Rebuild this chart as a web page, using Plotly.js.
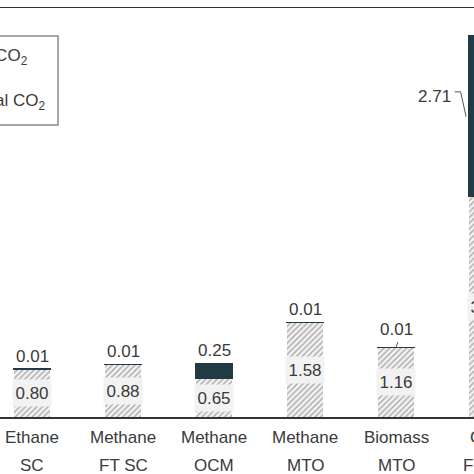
<!DOCTYPE html>
<html>
<head>
<meta charset="utf-8">
<script src="https://cdn.plot.ly/plotly-3.0.1.min.js"></script>
<style>html,body{margin:0;padding:0;background:#fff;}#chart{width:474px;height:474px;}</style>
</head>
<body>
<div id="chart"></div>
<script>
// ---- data ----
const categories = ['Ethane SC', 'Methane FT SC', 'Methane OCM', 'Methane MTO', 'Biomass MTO', 'Coal FT SC'];
const labelLine1 = ['Ethane', 'Methane', 'Methane', 'Methane', 'Biomass', 'Coal'];
const labelLine2 = ['SC', 'FT SC', 'OCM', 'MTO', 'MTO', 'FT SC'];
const thermalCO2 = [0.80, 0.88, 0.65, 1.58, 1.16, 3.71];
const directCO2 = [0.01, 0.01, 0.25, 0.01, 0.01, 2.71];
const seriesNames = ['Direct CO<sub>2</sub>', 'Thermal CO<sub>2</sub>'];

// ---- styles ----
const darkColor = '#213b45';
const textColor = '#3a3a3a';
const font = 'Liberation Sans, Arial, sans-serif';
const barW = 0.4;
const xr = [-0.352, 4.857];
const yr = [0, 6.874];
const px = i => (i - xr[0]) / (xr[1] - xr[0]);   // category index -> paper x
const py = v => (v - yr[0]) / (yr[1] - yr[0]);   // value -> paper y

const traces = [
  {
    type: 'bar', x: categories, y: thermalCO2, name: seriesNames[1], width: barW,
    marker: {
      color: '#f2f2f2',
      line: {width: 0},
      pattern: {shape: '/', fgcolor: '#a2a2a2', bgcolor: '#f2f2f2', size: 4, solidity: 0.3}
    },
    hoverinfo: 'skip', showlegend: false
  },
  {
    type: 'bar', x: categories, y: directCO2, name: seriesNames[0], width: barW,
    marker: {color: darkColor, line: {width: 1, color: darkColor}},
    hoverinfo: 'skip', showlegend: false
  }
];

const annotations = [];
const shapes = [];
const txt = {family: font, size: 17, color: textColor};

categories.forEach((c, i) => {
  // category labels (two lines)
  annotations.push({x: px(i), y: 0, xref: 'paper', yref: 'paper', text: labelLine1[i], showarrow: false,
    xanchor: 'center', yanchor: 'middle', yshift: -20, font: txt});
  annotations.push({x: px(i), y: 0, xref: 'paper', yref: 'paper', text: labelLine2[i], showarrow: false,
    xanchor: 'center', yanchor: 'middle', yshift: -48, font: txt});
  // inner labels of hatched segment
  annotations.push({x: px(i), y: py(thermalCO2[i] / 2), xref: 'paper', yref: 'paper', text: thermalCO2[i].toFixed(2),
    showarrow: false, xanchor: 'center', yanchor: 'middle', width: 36, height: 24, bgcolor: '#f2f2f2', font: txt});
  const total = thermalCO2[i] + directCO2[i];
  if (i < categories.length - 1) {
    const lead = (categories[i] === 'Biomass MTO');
    annotations.push({x: px(i), y: py(total), xref: 'paper', yref: 'paper', text: directCO2[i].toFixed(2),
      showarrow: false, xanchor: 'center', yanchor: 'bottom', yshift: lead ? 6 : 1, font: txt});
    if (lead) {
      shapes.push({type: 'line', xref: 'x', yref: 'y', x0: i, x1: i + 0.02, y0: total, y1: total + 0.09,
        line: {color: '#555', width: 1}});
    }
  } else {
    // side label with leader for the tall bar
    const mid = thermalCO2[i] + directCO2[i] / 2;
    annotations.push({x: px(i - 0.37), y: py(mid + 0.32), xref: 'paper', yref: 'paper', text: directCO2[i].toFixed(2),
      showarrow: false, xanchor: 'right', yanchor: 'middle', font: txt});
    shapes.push({type: 'path', xref: 'x', yref: 'y',
      path: `M ${i - 0.355} ${mid + 0.40} L ${i - 0.29} ${mid + 0.40} L ${i - 0.23} ${mid - 0.02}`,
      line: {color: '#555', width: 1}});
  }
});

// legend (left part lies outside the visible page, as in the cropped reference)
shapes.push({type: 'rect', xref: 'paper', yref: 'paper', x0: -0.4, x1: 0.1224, y0: 0.714, y1: 0.9315,
  line: {color: '#8a8a8a', width: 1.5}, fillcolor: 'rgba(0,0,0,0)'});
annotations.push({x: -0.118, y: 0.880, xref: 'paper', yref: 'paper', text: seriesNames[0], showarrow: false,
  xanchor: 'left', yanchor: 'middle', font: txt});
annotations.push({x: -0.118, y: 0.770, xref: 'paper', yref: 'paper', text: seriesNames[1], showarrow: false,
  xanchor: 'left', yanchor: 'middle', font: txt});

const layout = {
  width: 474, height: 474,
  margin: {l: 0, r: 0, t: 8, b: 57},
  paper_bgcolor: '#fff', plot_bgcolor: '#fff',
  barmode: 'stack',
  showlegend: false,
  xaxis: {type: 'category', range: xr, showticklabels: false, ticks: '',
    showline: true, mirror: true, linecolor: '#333', linewidth: 1.5, showgrid: false, zeroline: false, fixedrange: true},
  yaxis: {range: yr, showticklabels: false, ticks: '', showline: false, showgrid: false,
    zeroline: false, fixedrange: true},
  annotations: annotations,
  shapes: shapes,
  font: {family: font, color: textColor}
};

Plotly.newPlot('chart', traces, layout, {displayModeBar: false, staticPlot: true});
</script>
</body>
</html>
